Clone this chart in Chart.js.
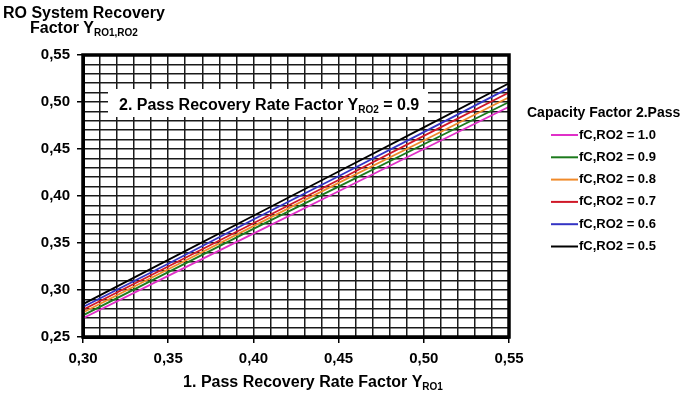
<!DOCTYPE html>
<html>
<head>
<meta charset="utf-8">
<script src="https://cdn.jsdelivr.net/npm/chart.js@4.4.0/dist/chart.umd.min.js"></script>
<style>
  html, body { margin: 0; padding: 0; background: #fff; }
  #wrap { width: 685px; height: 396px; position: relative; }
</style>
</head>
<body>
<div id="wrap"><canvas id="chart" width="685" height="396"></canvas></div>
<script>
// x values (1. pass recovery rate factor)
const xValues = [0.30, 0.35, 0.40, 0.45, 0.50, 0.55];

// system recovery for each capacity factor
const fc10 = [0.270, 0.315, 0.360, 0.405, 0.450, 0.495];
const fc09 = [0.273, 0.319, 0.365, 0.410, 0.455, 0.500];
const fc08 = [0.276, 0.322, 0.368, 0.414, 0.459, 0.505];
const fc07 = [0.279, 0.325, 0.371, 0.417, 0.464, 0.510];
const fc06 = [0.282, 0.328, 0.375, 0.421, 0.468, 0.515];
const fc05 = [0.285, 0.332, 0.379, 0.426, 0.473, 0.520];

const seriesLabels = ['fC,RO2 = 1.0', 'fC,RO2 = 0.9', 'fC,RO2 = 0.8', 'fC,RO2 = 0.7', 'fC,RO2 = 0.6', 'fC,RO2 = 0.5'];
const seriesColors = ['#e030c8', '#1c7a1c', '#f08a2a', '#d01828', '#3434c4', '#000000'];
const seriesData = [fc10, fc09, fc08, fc07, fc06, fc05];

const FONT = '"Liberation Sans", Arial, sans-serif';

const isMajor = (v) => Math.abs(v * 20 - Math.round(v * 20)) < 1e-6;
const fmt = (v) => v.toFixed(2).replace('.', ',');

// helper: text with subscript part
function textWithSub(ctx, parts, x, y, align) {
    let total = 0;
    parts.forEach(p => { ctx.font = 'bold ' + p.size + 'px ' + FONT; total += ctx.measureText(p.t).width; });
    let cx = align === 'center' ? x - total / 2 : x;
    ctx.textAlign = 'left';
    ctx.textBaseline = 'alphabetic';
    parts.forEach(p => {
        ctx.font = 'bold ' + p.size + 'px ' + FONT;
        ctx.fillText(p.t, cx, y + (p.dy || 0));
        cx += ctx.measureText(p.t).width;
    });
}

const decorPlugin = {
    id: 'decor',
    beforeDatasetsDraw(chart) {
        const ctx = chart.ctx;
        ctx.save();
        // white box with the pass-2 text
        ctx.fillStyle = '#fff';
        ctx.fillRect(108, 89, 320, 28);
        ctx.fillStyle = '#000';
        textWithSub(ctx, [
            { t: '2. Pass Recovery Rate Factor Y', size: 16 },
            { t: 'RO2', size: 10, dy: 3 },
            { t: ' = 0.9', size: 16 }
        ], 119, 110, 'left');
        ctx.restore();
    },
    afterDraw(chart) {
        const ctx = chart.ctx;
        const a = chart.chartArea;
        ctx.save();
        // frame
        ctx.strokeStyle = '#000';
        ctx.lineWidth = 3.5;
        ctx.strokeRect(a.left, a.top, a.right - a.left, a.bottom - a.top);

        ctx.fillStyle = '#000';
        // y title
        ctx.font = 'bold 16px ' + FONT;
        ctx.textAlign = 'left';
        ctx.textBaseline = 'alphabetic';
        ctx.fillText('RO System Recovery', 3, 18);
        textWithSub(ctx, [
            { t: 'Factor Y', size: 16 },
            { t: 'RO1,RO2', size: 10, dy: 3 }
        ], 30, 33, 'left');
        // x title
        textWithSub(ctx, [
            { t: '1. Pass Recovery Rate Factor Y', size: 16 },
            { t: 'RO1', size: 10, dy: 3 }
        ], 313, 387, 'center');

        // legend
        ctx.font = 'bold 14px ' + FONT;
        ctx.textBaseline = 'middle';
        ctx.fillText('Capacity Factor 2.Pass', 527, 113);
        ctx.font = 'bold 13px ' + FONT;
        chart.data.datasets.forEach((ds, i) => {
            const y = 135 + i * 22.3;
            ctx.strokeStyle = ds.borderColor;
            ctx.lineWidth = 2;
            ctx.beginPath();
            ctx.moveTo(551, y);
            ctx.lineTo(578, y);
            ctx.stroke();
            ctx.fillText(ds.label, 579, y);
        });
        ctx.restore();
    }
};

new Chart(document.getElementById('chart'), {
    type: 'line',
    data: {
        datasets: seriesData.map((d, i) => ({
            label: seriesLabels[i],
            data: xValues.map((x, j) => ({ x: x, y: d[j] })),
            borderColor: seriesColors[i],
            backgroundColor: seriesColors[i],
            borderWidth: 1.8,
            pointRadius: 0,
            tension: 0
        }))
    },
    options: {
        responsive: false,
        animation: false,
        devicePixelRatio: 1,
        layout: { padding: { top: 55, right: 176, left: 0, bottom: 0 } },
        plugins: { legend: { display: false }, tooltip: { enabled: false } },
        scales: {
            x: {
                type: 'linear',
                min: 0.30,
                max: 0.55,
                afterFit: (s) => { s.height = 59; },
                ticks: {
                    stepSize: 0.01,
                    autoSkip: false,
                    maxRotation: 0,
                    padding: 7,
                    color: '#000',
                    font: { family: FONT, size: 15, weight: 'bold' },
                    callback: (v) => isMajor(v) ? fmt(v) : ''
                },
                grid: {
                    color: '#1a1a1a',
                    lineWidth: 1.5,
                    tickLength: 6,
                    tickColor: (c) => (c.tick && isMajor(c.tick.value)) ? '#000' : 'rgba(0,0,0,0)'
                },
                border: { color: '#000', width: 3 }
            },
            y: {
                min: 0.25,
                max: 0.55,
                afterFit: (s) => { s.width = 83; },
                ticks: {
                    stepSize: 0.01,
                    autoSkip: false,
                    padding: 7,
                    color: '#000',
                    font: { family: FONT, size: 15, weight: 'bold' },
                    callback: (v) => isMajor(v) ? fmt(v) : ''
                },
                grid: {
                    color: '#1a1a1a',
                    lineWidth: 1.5,
                    tickLength: 6,
                    tickColor: (c) => (c.tick && isMajor(c.tick.value)) ? '#000' : 'rgba(0,0,0,0)'
                },
                border: { color: '#000', width: 3 }
            }
        }
    },
    plugins: [decorPlugin]
});
</script>
</body>
</html>
